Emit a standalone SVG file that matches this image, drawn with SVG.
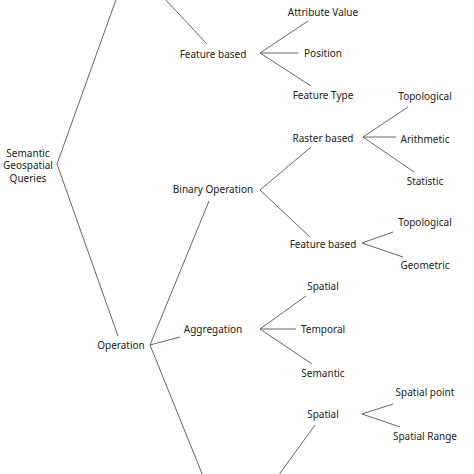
<svg xmlns="http://www.w3.org/2000/svg" width="474" height="474" viewBox="0 0 474 474">
<style>
text{font-family:"Noto Sans","Open Sans","DejaVu Sans",sans-serif;font-size:10px;fill:#222;text-anchor:middle}
.c line{stroke:#666;stroke-width:1;fill:none}
</style>
<rect width="474" height="474" fill="#fff"/>
<g class="c" id="connectors">
<line x1="57" y1="164" x2="116.6" y2="-2"/>
<line x1="57" y1="164" x2="118" y2="336"/>
<line x1="164" y1="-2" x2="207" y2="44"/>
<line x1="260" y1="53" x2="308" y2="21"/>
<line x1="260" y1="53" x2="298" y2="53"/>
<line x1="260" y1="53" x2="311" y2="86"/>
<line x1="260" y1="190" x2="311" y2="147"/>
<line x1="260" y1="190" x2="310" y2="237"/>
<line x1="363" y1="137" x2="408" y2="107"/>
<line x1="363" y1="137" x2="396" y2="137"/>
<line x1="363" y1="137" x2="414" y2="172"/>
<line x1="362" y1="243" x2="393" y2="232"/>
<line x1="362" y1="243" x2="403" y2="257"/>
<line x1="150" y1="345" x2="209" y2="201"/>
<line x1="150" y1="345" x2="180" y2="337"/>
<line x1="150" y1="345" x2="203" y2="476"/>
<line x1="260" y1="329" x2="306" y2="296"/>
<line x1="260" y1="329" x2="296" y2="329"/>
<line x1="260" y1="329" x2="312" y2="364"/>
<line x1="362" y1="414" x2="393" y2="404"/>
<line x1="362" y1="414" x2="400" y2="427"/>
<line x1="315" y1="425" x2="278" y2="476"/>
</g>
<g id="root"><text x="28" y="156.5">Semantic</text><text x="28" y="169">Geospatial</text><text x="28" y="181.5">Queries</text></g>
<g id="feature-based-1"><text x="213" y="57.5">Feature based</text></g>
<g id="attribute-value"><text x="323" y="15.5">Attribute Value</text></g>
<g id="position"><text x="323" y="56.5">Position</text></g>
<g id="feature-type"><text x="323" y="98.5">Feature Type</text></g>
<g id="binary-operation"><text x="213" y="192.5">Binary Operation</text></g>
<g id="raster-based"><text x="323" y="141.5">Raster based</text></g>
<g id="topological-1"><text x="425" y="99.5">Topological</text></g>
<g id="arithmetic"><text x="425" y="142.5">Arithmetic</text></g>
<g id="statistic"><text x="425" y="184.5">Statistic</text></g>
<g id="feature-based-2"><text x="323" y="247.5">Feature based</text></g>
<g id="topological-2"><text x="425" y="225.5">Topological</text></g>
<g id="geometric"><text x="425" y="268.5">Geometric</text></g>
<g id="operation"><text x="121" y="348.5">Operation</text></g>
<g id="aggregation"><text x="213" y="332.5">Aggregation</text></g>
<g id="spatial-1"><text x="323" y="289.5">Spatial</text></g>
<g id="temporal"><text x="323" y="332.5">Temporal</text></g>
<g id="semantic"><text x="323" y="376.5">Semantic</text></g>
<g id="spatial-2"><text x="323" y="417.5">Spatial</text></g>
<g id="spatial-point"><text x="425" y="395.5">Spatial point</text></g>
<g id="spatial-range"><text x="425" y="439.5">Spatial Range</text></g>
</svg>
